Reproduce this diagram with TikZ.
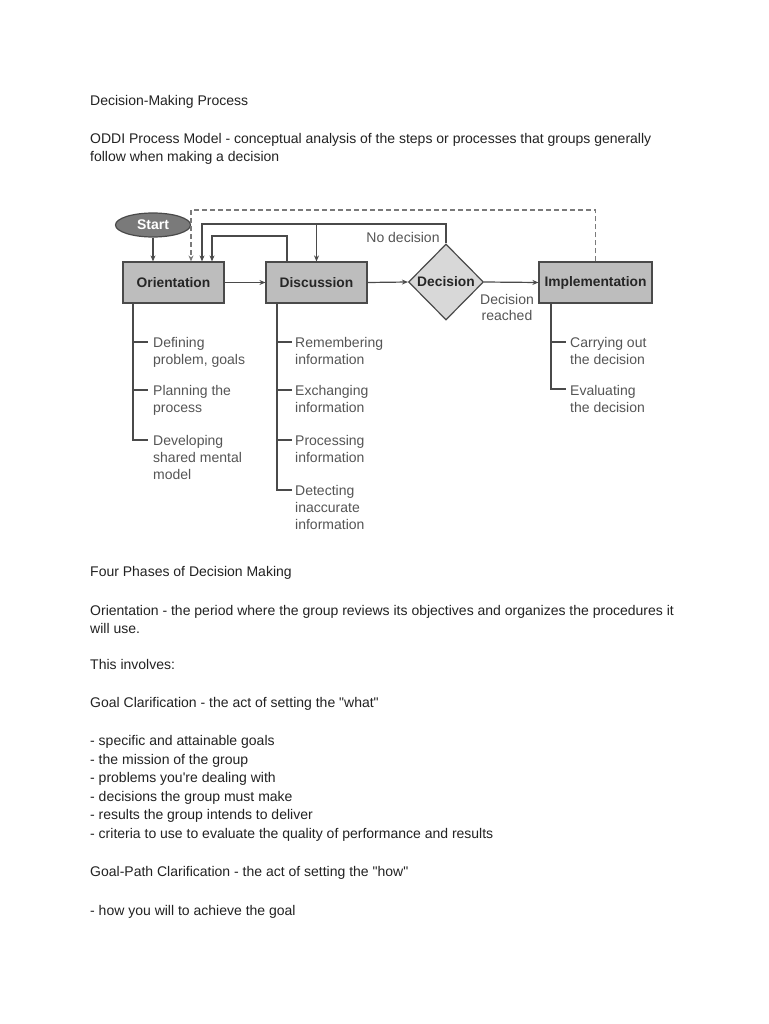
\documentclass[tikz,border=0pt]{standalone}
\usepackage{fontspec}
\setmainfont{Liberation Sans}
\usetikzlibrary{shapes.geometric,arrows.meta}
\definecolor{bodytext}{HTML}{222222}
\definecolor{boxfill}{HTML}{BDBDBD}
\definecolor{startfill}{HTML}{7A7A7A}
\definecolor{decfill}{HTML}{D8D8D8}
\definecolor{linecol}{HTML}{4A4A4A}
\definecolor{dashcol}{HTML}{7A7A7A}
\definecolor{boxtext}{HTML}{262626}
\definecolor{graytext}{HTML}{555555}
\tikzset{
  body/.style={anchor=base west, inner sep=0pt, font=\fontsize{14}{18}\selectfont, text=bodytext},
  box/.style={draw=linecol, line width=1.2pt, fill=boxfill, minimum height=41pt, inner sep=0pt,
    font=\fontsize{13.8}{16}\selectfont\bfseries, text=boxtext},
  conn/.style={draw=linecol, line width=1.2pt},
  arr/.style={-{Stealth[length=6pt,width=5pt]}},
  dashconn/.style={draw=dashcol, line width=1.2pt, dash pattern=on 5pt off 3pt},
  branch/.style={anchor=base west, inner sep=0pt, align=left, font=\fontsize{14}{17}\selectfont, text=graytext},
  lbl/.style={inner sep=0pt, align=center, font=\fontsize{14}{16}\selectfont, text=graytext}
}
\begin{document}
\begin{tikzpicture}[x=1pt,y=-1pt]
\fill[white] (0,0) rectangle (768,1024);
\useasboundingbox (0,0) rectangle (768,1024);

% page text
\node[body] (t1) at (90,106) {Decision-Making Process};
\node[body] (t2) at (90,144) {ODDI Process Model - conceptual analysis of the steps or processes that groups generally};
\node[body] (t3) at (90,162) {follow when making a decision};
\node[body] (t4) at (90,576) {Four Phases of Decision Making};
\node[body] (t5) at (90,615) {Orientation - the period where the group reviews its objectives and organizes the procedures it};
\node[body] (t6) at (90,633) {will use.};
\node[body] (t7) at (90,669) {This involves:};
\node[body] (t8) at (90,707) {Goal Clarification - the act of setting the \textquotedbl what\textquotedbl};
\node[body] (l1) at (90,745) {- specific and attainable goals};
\node[body] (l2) at (90,764) {- the mission of the group};
\node[body] (l3) at (90,782) {- problems you\textquotesingle re dealing with};
\node[body] (l4) at (90,801) {- decisions the group must make};
\node[body] (l5) at (90,819) {- results the group intends to deliver};
\node[body] (l6) at (90,838) {- criteria to use to evaluate the quality of performance and results};
\node[body] (t9) at (90,876) {Goal-Path Clarification - the act of setting the \textquotedbl how\textquotedbl};
\node[body] (t10) at (90,915) {- how you will to achieve the goal};

% diagram nodes
\node[ellipse, draw=linecol, line width=1.2pt, fill=startfill, minimum width=75pt, minimum height=24pt, inner sep=0pt,
      font=\fontsize{14}{16}\selectfont\bfseries, text=white] (start) at (153,225) {Start};
\node[box, minimum width=101pt] (ori) at (173.5,282.5) {Orientation};
\node[box, minimum width=101pt] (disc) at (316.5,282.5) {Discussion};
\node[diamond, draw=linecol, line width=1.2pt, fill=decfill, minimum width=75pt, minimum height=76pt, inner sep=0pt,
      font=\fontsize{13.8}{16}\selectfont\bfseries, text=boxtext] (dec) at (446,282) {Decision};
\node[box, minimum width=113pt] (impl) at (595.5,282.5) {Implementation};

\node[lbl] (nodec) at (403,237) {No decision};
\node[lbl] (reach) at (507,307) {Decision\\reached};

% helper coordinates
\coordinate (xd) at (191,210);
\coordinate (xs) at (202,224);
\coordinate (xt) at (212,236);
\coordinate (xq) at (287,236);

% connectors
\draw[conn,arr] (start) -- (start |- ori.north);
\draw[dashconn,arr] (impl.north) |- (xd) -- (xd |- ori.north);
\draw[conn,arr] (dec.north) |- (xs) -- (xs |- ori.north);
\draw[conn,arr] (disc.north |- xs) -- (disc.north);
\draw[conn,arr] (xq |- disc.north) -- (xq) -- (xt) -- (xt |- ori.north);
\draw[conn,arr] (ori.east) -- (disc.west);
\draw[conn,arr] (disc.east) -- (dec.west);
\draw[conn,arr] (dec.east) -- (impl.west);

% orientation branch
\coordinate (ob) at (133,440);
\draw[conn] (ori.south -| ob) -- (ob) -- ++(15,0);
\draw[conn] (133,342) -- ++(15,0);
\draw[conn] (133,390) -- ++(15,0);
\node[branch] (o1) at (153,364) {Defining\\problem, goals};
\node[branch] (o2) at (153,412) {Planning the\\process};
\node[branch] (o3) at (153,479) {Developing\\shared mental\\model};

% discussion branch
\coordinate (db) at (277,490);
\draw[conn] (disc.south -| db) -- (db) -- ++(15,0);
\draw[conn] (277,342) -- ++(15,0);
\draw[conn] (277,390) -- ++(15,0);
\draw[conn] (277,440) -- ++(15,0);
\node[branch] (d1) at (295,364) {Remembering\\information};
\node[branch] (d2) at (295,412) {Exchanging\\information};
\node[branch] (d3) at (295,462) {Processing\\information};
\node[branch] (d4) at (295,529) {Detecting\\inaccurate\\information};

% implementation branch
\coordinate (ib) at (551,389);
\draw[conn] (impl.south -| ib) -- (ib) -- ++(15,0);
\draw[conn] (551,342) -- ++(15,0);
\node[branch] (i1) at (570,364) {Carrying out\\the decision};
\node[branch] (i2) at (570,412) {Evaluating\\the decision};
\end{tikzpicture}
\end{document}
